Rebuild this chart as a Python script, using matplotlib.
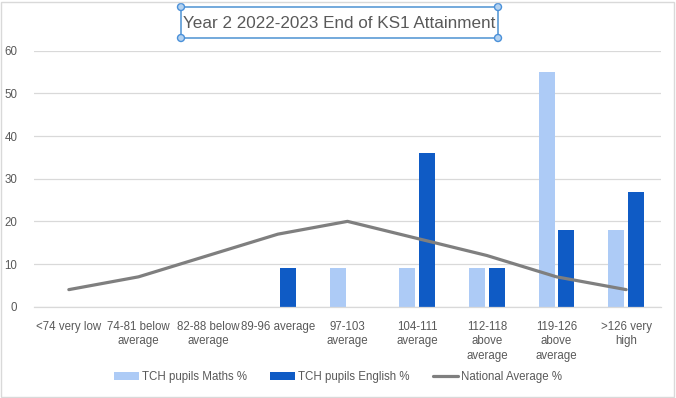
import numpy as np
import matplotlib
matplotlib.use("Agg")
import matplotlib.pyplot as plt
from matplotlib.patches import Rectangle, Circle

plt.rcParams['font.family'] = ['Liberation Sans', 'DejaVu Sans']

categories = ['<74 very low', '74-81 below\naverage', '82-88 below\naverage',
              '89-96 average', '97-103\naverage', '104-111\naverage',
              '112-118\nabove\naverage', '119-126\nabove\naverage', '>126 very\nhigh']
maths = [0, 0, 0, 0, 9, 9, 9, 55, 18]
english = [0, 0, 0, 9, 0, 36, 9, 18, 27]
national = [4, 7, 12, 17, 20, 16, 12, 7, 4]

W, H = 676, 398
fig = plt.figure(figsize=(W / 100, H / 100), dpi=100)
ax = fig.add_axes([34 / W, (H - 306.7) / H, (661 - 34) / W, (306.7 - 50.7) / H])

txt = '#595959'
fs = 8.3
x = np.arange(len(categories))
bw = 0.23
b1 = ax.bar(x - 0.14, maths, bw, color='#adcbf6', label='TCH pupils Maths %', zorder=2)
b2 = ax.bar(x + 0.14, english, bw, color='#0f5bc5', label='TCH pupils English %', zorder=2)
l1, = ax.plot(x, national, color='#7f7f7f', lw=2.3, label='National Average %', zorder=3,
              solid_capstyle='round')

ax.set_xlim(-0.5, len(categories) - 0.5)
ax.set_ylim(0, 60)
ax.set_yticks(range(0, 61, 10))
ax.set_xticks(x)
ax.set_xticklabels(categories, fontsize=fs, color=txt, linespacing=1.3)
ax.tick_params(axis='y', length=0, pad=12, labelsize=fs, labelcolor=txt)
ax.tick_params(axis='x', length=0, pad=10)
ax.grid(axis='y', color='#d9d9d9', lw=0.9, zorder=0)
for s in ['top', 'right', 'left']:
    ax.spines[s].set_visible(False)
ax.spines['bottom'].set_color('#d9d9d9')
ax.spines['bottom'].set_linewidth(0.9)

fig.legend([b1, b2, l1], [b1.get_label(), b2.get_label(), l1.get_label()],
           loc='center', bbox_to_anchor=(0.5, 1 - 377 / H), ncol=3, frameon=False,
           fontsize=fs, labelcolor=txt, handlelength=2.2, handleheight=0.6,
           columnspacing=2.0, handletextpad=0.25)

# title with selection box
fig.text(0.5 * (181 + 498) / W, 1 - 23 / H, 'Year 2 2022-2023 End of KS1 Attainment',
         ha='center', va='center', fontsize=12.3, color=txt)
x0, x1, y0, y1 = 181 / W, 498 / W, 1 - 38 / H, 1 - 7 / H
fig.patches.append(Rectangle((x0, y0), x1 - x0, y1 - y0, transform=fig.transFigure,
                             fill=False, edgecolor='#5b9bd5', lw=1.2))
for cx, cy in [(x0, y0), (x1, y0), (x0, y1), (x1, y1)]:
    fig.patches.append(Circle((cx * W, cy * H), 3.5, transform=None,
                              facecolor='#b4d2f0', edgecolor='#4a90d9', lw=1))

# outer chart border
fig.patches.append(Rectangle((1 / W, 1 / H), (W - 3) / W, (H - 3) / H,
                             transform=fig.transFigure, fill=False,
                             edgecolor='#d9d9d9', lw=1))

fig.savefig('out.png', dpi=100)
